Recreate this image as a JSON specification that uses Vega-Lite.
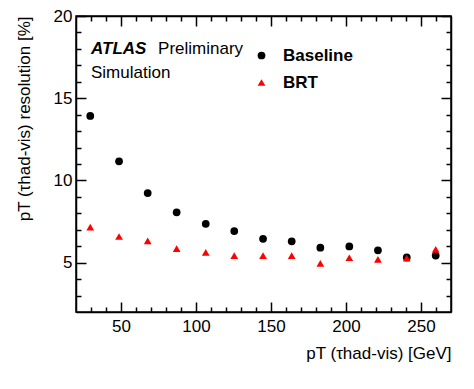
{
  "$schema": "https://vega.github.io/schema/vega-lite/v6.json",
  "width": 375,
  "height": 296,
  "autosize": "none",
  "padding": {"left": 76, "top": 16, "right": 23, "bottom": 77},
  "background": "white",
  "config": {
    "font": "Liberation Sans",
    "view": {"stroke": "black", "strokeWidth": 1.5},
    "axis": {
      "grid": false,
      "domain": true,
      "domainColor": "black",
      "domainWidth": 1.5,
      "labelColor": "black",
      "labelFontSize": 17,
      "titleColor": "black",
      "titleFontSize": 17,
      "titleFontWeight": "normal"
    }
  },
  "data": {
    "values": [
      {"pt": 29.5, "res": 13.92, "series": "Baseline"},
      {"pt": 48.7, "res": 11.16, "series": "Baseline"},
      {"pt": 67.8, "res": 9.23, "series": "Baseline"},
      {"pt": 87.1, "res": 8.06, "series": "Baseline"},
      {"pt": 106.5, "res": 7.36, "series": "Baseline"},
      {"pt": 125.5, "res": 6.92, "series": "Baseline"},
      {"pt": 144.7, "res": 6.45, "series": "Baseline"},
      {"pt": 163.8, "res": 6.3, "series": "Baseline"},
      {"pt": 182.9, "res": 5.91, "series": "Baseline"},
      {"pt": 202.2, "res": 5.99, "series": "Baseline"},
      {"pt": 221.3, "res": 5.75, "series": "Baseline"},
      {"pt": 240.5, "res": 5.32, "series": "Baseline"},
      {"pt": 259.8, "res": 5.43, "series": "Baseline"},
      {"pt": 29.5, "res": 7.16, "series": "BRT"},
      {"pt": 48.7, "res": 6.59, "series": "BRT"},
      {"pt": 67.8, "res": 6.33, "series": "BRT"},
      {"pt": 87.1, "res": 5.86, "series": "BRT"},
      {"pt": 106.5, "res": 5.63, "series": "BRT"},
      {"pt": 125.5, "res": 5.43, "series": "BRT"},
      {"pt": 144.7, "res": 5.43, "series": "BRT"},
      {"pt": 163.8, "res": 5.43, "series": "BRT"},
      {"pt": 182.9, "res": 4.96, "series": "BRT"},
      {"pt": 202.2, "res": 5.3, "series": "BRT"},
      {"pt": 221.3, "res": 5.2, "series": "BRT"},
      {"pt": 240.5, "res": 5.28, "series": "BRT"},
      {"pt": 259.8, "res": 5.81, "series": "BRT"}
    ]
  },
  "layer": [
    {
      "mark": {"type": "point", "filled": true, "opacity": 1, "size": 60},
      "encoding": {
        "x": {
          "field": "pt", "type": "quantitative",
          "scale": {"domain": [20, 270], "nice": false, "zero": false},
          "axis": {
            "orient": "bottom",
            "values": [30, 40, 50, 60, 70, 80, 90, 100, 110, 120, 130, 140, 150, 160, 170, 180, 190, 200, 210, 220, 230, 240, 250, 260],
            "ticks": true, "tickColor": "black", "tickWidth": 1.5,
            "tickSize": {"condition": {"test": "datum.value % 50 === 0", "value": -10}, "value": -5},
            "labelExpr": "datum.value % 50 === 0 ? datum.label : ''",
            "labelPadding": 16,
            "title": "pT (τhad-vis) [GeV]",
            "titleX": 375, "titleY": 46, "titleAlign": "right", "titleBaseline": "alphabetic"
          }
        },
        "y": {
          "field": "res", "type": "quantitative",
          "scale": {"domain": [2, 20], "nice": false, "zero": false},
          "axis": {
            "orient": "left",
            "values": [3, 4, 5, 6, 7, 8, 9, 10, 11, 12, 13, 14, 15, 16, 17, 18, 19, 20],
            "ticks": true, "tickColor": "black", "tickWidth": 1.5,
            "tickSize": {"condition": {"test": "datum.value % 5 === 0", "value": -10}, "value": -5},
            "labelExpr": "datum.value % 5 === 0 ? datum.label : ''",
            "labelPadding": 14,
            "title": "pT (τhad-vis) resolution [%]",
            "titleX": -52, "titleY": 0, "titleAngle": 270, "titleAlign": "right", "titleBaseline": "middle"
          }
        },
        "color": {
          "field": "series", "type": "nominal",
          "scale": {"domain": ["Baseline", "BRT"], "range": ["#000000", "#ff0000"]},
          "legend": {
            "orient": "none", "legendX": 177, "legendY": 31, "title": null,
            "padding": 0, "rowPadding": 9, "labelOffset": 13,
            "labelFontSize": 17, "labelFontWeight": "bold", "labelColor": "black",
            "symbolSize": 60, "symbolStrokeWidth": 0
          }
        },
        "shape": {
          "field": "series", "type": "nominal",
          "scale": {"domain": ["Baseline", "BRT"], "range": ["circle", "triangle-up"]},
          "legend": {
            "orient": "none", "legendX": 177, "legendY": 31, "title": null,
            "padding": 0, "rowPadding": 9, "labelOffset": 13,
            "labelFontSize": 17, "labelFontWeight": "bold", "labelColor": "black",
            "symbolSize": 60, "symbolStrokeWidth": 0
          }
        }
      }
    },
    {
      "mark": {"type": "point", "opacity": 0},
      "encoding": {
        "x": {
          "field": "pt", "type": "quantitative",
          "scale": {"domain": [20, 270], "nice": false, "zero": false},
          "axis": {
            "orient": "top",
            "values": [30, 40, 50, 60, 70, 80, 90, 100, 110, 120, 130, 140, 150, 160, 170, 180, 190, 200, 210, 220, 230, 240, 250, 260],
            "ticks": true, "tickColor": "black", "tickWidth": 1.5,
            "tickSize": {"condition": {"test": "datum.value % 50 === 0", "value": -10}, "value": -5},
            "labels": false, "title": null
          }
        },
        "y": {
          "field": "res", "type": "quantitative",
          "scale": {"domain": [2, 20], "nice": false, "zero": false},
          "axis": {
            "orient": "right",
            "values": [3, 4, 5, 6, 7, 8, 9, 10, 11, 12, 13, 14, 15, 16, 17, 18, 19, 20],
            "ticks": true, "tickColor": "black", "tickWidth": 1.5,
            "tickSize": {"condition": {"test": "datum.value % 5 === 0", "value": -10}, "value": -5},
            "labels": false, "title": null
          }
        }
      }
    },
    {
      "data": {"values": [{}]},
      "mark": {"type": "text", "text": "ATLAS", "fontSize": 17, "fontWeight": "bold", "fontStyle": "italic", "align": "left", "baseline": "alphabetic", "color": "black"},
      "encoding": {
        "x": {"datum": 30, "type": "quantitative", "scale": {"domain": [20, 270], "nice": false, "zero": false}, "axis": null},
        "y": {"datum": 17.69, "type": "quantitative", "scale": {"domain": [2, 20], "nice": false, "zero": false}, "axis": null}
      }
    },
    {
      "data": {"values": [{}]},
      "mark": {"type": "text", "text": "Preliminary", "fontSize": 17, "align": "left", "baseline": "alphabetic", "color": "black"},
      "encoding": {
        "x": {"datum": 74.7, "type": "quantitative", "scale": {"domain": [20, 270], "nice": false, "zero": false}, "axis": null},
        "y": {"datum": 17.69, "type": "quantitative", "scale": {"domain": [2, 20], "nice": false, "zero": false}, "axis": null}
      }
    },
    {
      "data": {"values": [{}]},
      "mark": {"type": "text", "text": "Simulation", "fontSize": 17, "align": "left", "baseline": "alphabetic", "color": "black"},
      "encoding": {
        "x": {"datum": 30, "type": "quantitative", "scale": {"domain": [20, 270], "nice": false, "zero": false}, "axis": null},
        "y": {"datum": 16.23, "type": "quantitative", "scale": {"domain": [2, 20], "nice": false, "zero": false}, "axis": null}
      }
    }
  ],
  "resolve": {"scale": {"x": "independent", "y": "independent"}}
}
